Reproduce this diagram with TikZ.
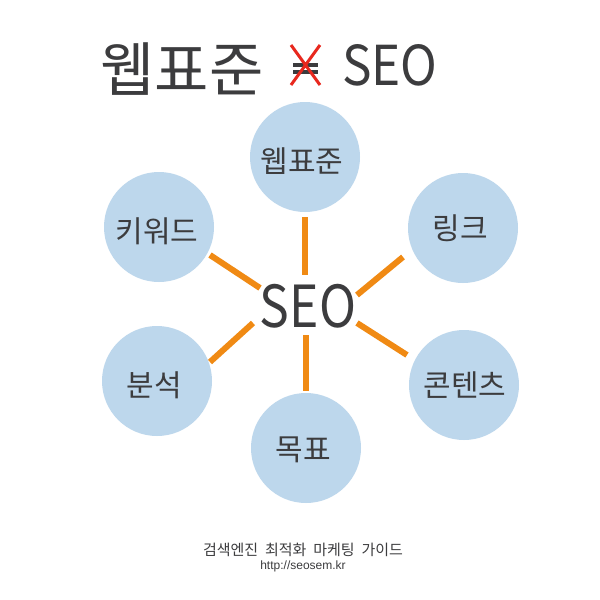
\documentclass[tikz,border=0pt]{standalone}
\usepackage{fontspec}
\setmainfont{Noto Sans CJK KR}
\newfontfamily\krfont{Noto Sans CJK KR}
\newfontfamily\urlfont{Liberation Sans}
\definecolor{bubble}{RGB}{189,215,236}
\definecolor{ink}{RGB}{60,60,62}
\definecolor{linkor}{RGB}{240,138,20}
\definecolor{xred}{RGB}{232,40,30}
\tikzset{
  bub/.style={circle,fill=bubble,minimum size=110pt,inner sep=0pt},
  lbl/.style={inner sep=0pt,text=ink,font=\krfont\fontsize{30}{30}\selectfont},
  spoke/.style={draw=linkor,line width=6pt},
  txt/.style={inner sep=0pt,text=ink}
}
\begin{document}
\begin{tikzpicture}[x=1pt,y=-1pt]
\useasboundingbox[fill=white] (0,0) rectangle (600,600);
% title
\node[txt,anchor=base,font=\krfont\fontsize{59}{59}\selectfont] (t1) at (182,91) {웹표준};
\node[txt,anchor=base,font=\krfont\fontsize{55}{55}\selectfont] (t2) at (390,85) {\scalebox{0.9}[1]{SEO}};
\coordinate (eqa1) at (293,65); \coordinate (eqa2) at (318,65);
\coordinate (eqb1) at (293,72); \coordinate (eqb2) at (318,72);
\draw[ink,line width=3.5pt] (eqa1) -- (eqa2) (eqb1) -- (eqb2);
\coordinate (xa1) at (291,45); \coordinate (xa2) at (320,85);
\coordinate (xb1) at (320,45); \coordinate (xb2) at (291,85);
\draw[xred,line width=3pt] (xa1) -- (xa2) (xb1) -- (xb2);
% bubbles
\node[bub,label={[lbl,xshift=-3pt,yshift=-4pt]center:웹표준}] (web) at (305,157) {};
\node[bub,label={[lbl,xshift=-2pt,yshift=-4pt]center:키워드}] (kw) at (159,227) {};
\node[bub,label={[lbl,xshift=-3pt]center:링크}] (lnk) at (463,228) {};
\node[bub,label={[lbl,xshift=1pt]center:콘텐츠}] (cont) at (464,385) {};
\node[bub,label={[lbl,xshift=-3pt,yshift=-2pt]center:목표}] (goal) at (306,448) {};
\node[bub,label={[lbl,xshift=-3pt,yshift=-4pt]center:분석}] (ana) at (157,381) {};
% center
\node[txt,anchor=base,font=\krfont\fontsize{58}{58}\selectfont] (seo) at (308,327) {\scalebox{0.86}[1]{SEO}};
% spokes
\coordinate (s1a) at (305,217); \coordinate (s1b) at (305,275);
\coordinate (s2a) at (403,257); \coordinate (s2b) at (357,295);
\coordinate (s3a) at (357,323); \coordinate (s3b) at (407,355);
\coordinate (s4a) at (306,335); \coordinate (s4b) at (306,391);
\coordinate (s5a) at (210,255); \coordinate (s5b) at (260,288);
\coordinate (s6a) at (253,323); \coordinate (s6b) at (210,362);
\draw[spoke] (s1a) -- (s1b);
\draw[spoke] (s2a) -- (s2b);
\draw[spoke] (s3a) -- (s3b);
\draw[spoke] (s4a) -- (s4b);
\draw[spoke] (s5a) -- (s5b);
\draw[spoke] (s6a) -- (s6b);
% footer
\node[txt,anchor=base,font=\krfont\fontsize{15}{15}\selectfont] (f1) at (303,555) {검색엔진\hspace{3.5pt} 최적화\hspace{3.5pt} 마케팅\hspace{3.5pt} 가이드};
\node[txt,anchor=base,font=\urlfont\fontsize{12}{12}\selectfont] (f2) at (303,569) {http://seosem.kr};
\end{tikzpicture}
\end{document}
